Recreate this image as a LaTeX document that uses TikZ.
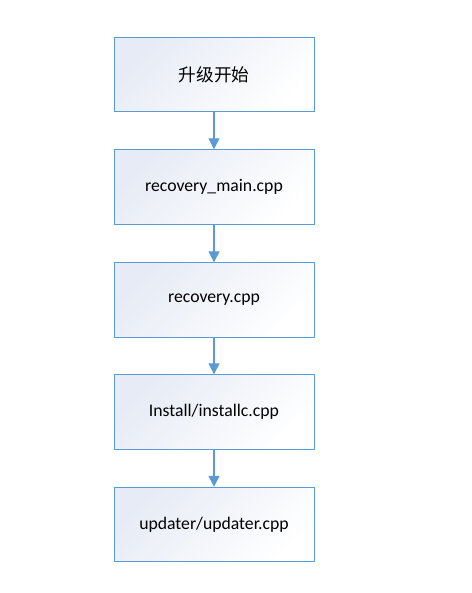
\documentclass[tikz,border=0pt]{standalone}
\usepackage{fontspec}
\setmainfont{Carlito}
\newfontfamily\cjk{Noto Sans CJK SC}
\usetikzlibrary{arrows.meta}
\definecolor{edgeblue}{HTML}{5B9BD5}
\definecolor{shadeblue}{HTML}{E6EBF5}
\begin{document}
\begin{tikzpicture}[x=1pt,y=1pt,
  stepbox/.style={draw=edgeblue, line width=0.9pt, minimum width=200pt, minimum height=74.5pt,
    top color=shadeblue, bottom color=white, shading angle=45, font=\fontsize{17.7}{20}\selectfont, inner sep=0pt},
  flow/.style={draw=edgeblue, line width=1.3pt, -{Triangle[width=11pt,length=11pt]}}]
\useasboundingbox (0,0) rectangle (471,593);
\node[stepbox] (b1) at (214,518.5) {\cjk 升级开始};
\node[stepbox] (b2) at (214,406) {recovery\_main.cpp};
\node[stepbox] (b3) at (214,293) {recovery.cpp};
\node[stepbox] (b4) at (214,181) {Install/installc.cpp};
\node[stepbox] (b5) at (214,68.5) {updater/updater.cpp};
\draw[flow] (b1) -- (b2);
\draw[flow] (b2) -- (b3);
\draw[flow] (b3) -- (b4);
\draw[flow] (b4) -- (b5);
\end{tikzpicture}
\end{document}
